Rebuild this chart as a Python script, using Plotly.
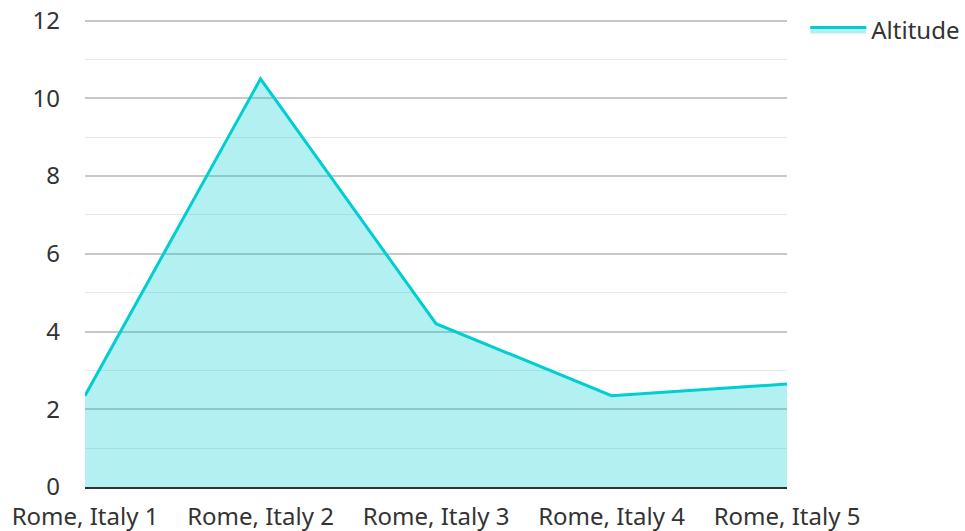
import plotly.graph_objects as go

categories = ["Rome, Italy 1", "Rome, Italy 2", "Rome, Italy 3", "Rome, Italy 4", "Rome, Italy 5"]
altitude = [2.35, 10.5, 4.2, 2.35, 2.65]
series_name = "Altitude"

fig = go.Figure()
fig.add_trace(go.Scatter(
    x=categories, y=altitude, name=series_name, mode="lines",
    line=dict(color="rgb(0,206,209)", width=3),
    fill="tozeroy", fillcolor="rgba(0,206,209,0.3)",
))

fig.update_layout(
    width=965, height=531,
    margin=dict(l=85, r=178, t=19, b=44, autoexpand=False),
    paper_bgcolor="white", plot_bgcolor="white",
    font=dict(family="Noto Sans", size=24, color="#333333"),
    showlegend=True,
    legend=dict(x=1.026, y=1.025, xanchor="left", yanchor="top",
                font=dict(size=24, color="#333333"), bgcolor="rgba(0,0,0,0)",
                itemwidth=56, tracegroupgap=0),
    xaxis=dict(type="category", range=[0, 4], showgrid=False, zeroline=False,
               showline=True, linecolor="#333333", linewidth=2,
               ticks="", ticklabelstandoff=7, automargin=False),
    yaxis=dict(range=[0, 12.04], dtick=2, tick0=0, showgrid=True, gridcolor="#c8c8c8",
               gridwidth=1.5, zeroline=False, showline=False, ticks="",
               ticklabelstandoff=24, automargin=False,
               minor=dict(dtick=1, tick0=0, showgrid=True, gridcolor="#e8e8e8", gridwidth=1)),
)

fig.write_html("out.html")
